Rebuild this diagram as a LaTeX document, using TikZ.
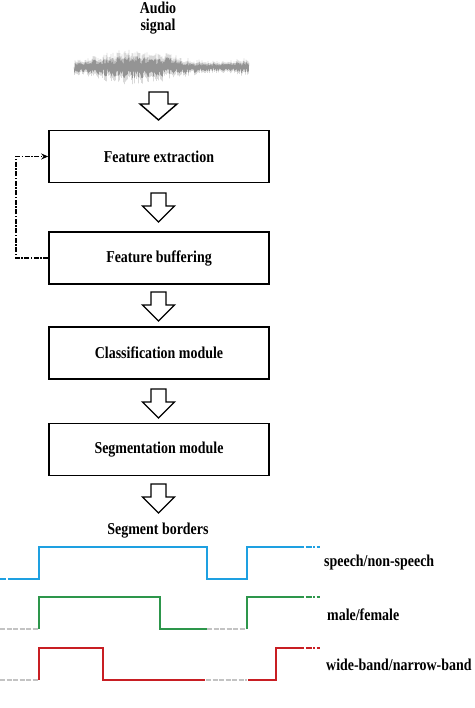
\documentclass[tikz,border=0pt]{standalone}
\usepackage{fontspec}
\setmainfont[FakeStretch=0.84]{Liberation Serif}
\usetikzlibrary{arrows.meta}
\definecolor{cblue}{RGB}{30,160,225}
\definecolor{cgreen}{RGB}{45,150,75}
\definecolor{cred}{RGB}{200,30,35}
\definecolor{cgray}{RGB}{195,195,195}
\tikzset{
  box/.style={draw=black, line width=1.6pt, minimum width=220pt, minimum height=52pt, inner sep=0pt, font=\fontsize{16.6}{17.5}\selectfont\bfseries},
  lbl/.style={inner sep=0pt, font=\fontsize{16.6}{17.5}\selectfont\bfseries},
  bigarrow/.pic={\draw[line width=1.4pt, fill=white, line join=miter] (-9.5,0) -- (9.5,0) -- (9.5,12) -- (18.5,12) -- (0,28) -- (-18.5,12) -- (-9.5,12) -- cycle;},
  smallarrow/.pic={\draw[line width=1.4pt, fill=white, line join=miter] (-7.5,0) -- (7.5,0) -- (7.5,13) -- (16,13) -- (0,29) -- (-16,13) -- (-7.5,13) -- cycle;},
  sig/.style={line width=1.8pt},
  gap/.style={cgray, line width=1.4pt, dash pattern=on 5pt off 1.5pt},
  tail/.style={line width=1.6pt, dash pattern=on 2pt off 1.5pt on 6pt off 1.5pt on 2pt off 1.5pt on 6pt off 1pt},
  feedback/.style={line width=1.1pt, dash pattern=on 5pt off 1.5pt on 1.5pt off 1.5pt},
  wave/.style={black!42, line width=0.3pt}
}
\begin{document}
\begin{tikzpicture}[x=1pt, y=-1pt]
\useasboundingbox (0,0) rectangle (474,708);
% audio label and waveform
\node[lbl, align=center] (audio) at (158,18) {Audio\\signal};
\pgfmathsetseed{11}
\draw[wave] (74,67) \foreach \i [evaluate=\i as \x using 74+\i*0.5] in {1,...,350} {
  -- (\x, {67 + (2*mod(\i,2)-1)*(0.45+0.55*rnd)*(5 + 13*exp(-((\x-135)/50)^2) + 4*exp(-((\x-245)/15)^2))}) };
% block arrows
\pic at (158.5,92) {bigarrow};
\pic at (158.5,193) {smallarrow};
\pic at (158.5,292) {smallarrow};
\pic at (158.5,389) {smallarrow};
\pic at (158.5,484) {smallarrow};
% boxes
\node[box] (fe) at (159,156.5) {Feature extraction};
\node[box] (fb) at (159,258) {Feature buffering};
\node[box] (cm) at (159,353) {Classification module};
\node[box] (sm) at (159,449.5) {Segmentation module};
% feedback loop
\coordinate (lb) at (16,258);
\draw[feedback, -{Stealth[length=7pt,width=6pt]}] (fb.west) -- (lb) |- (fe.west);
% segment borders
\node[lbl] (sb) at (158,531) {Segment borders};
% speech / non-speech
\draw[cblue, line width=1.4pt, dash pattern=on 6pt off 1.5pt] (0,579) -- (13,579);
\draw[cblue, sig] (13,579) -- (39,579) -- (39,547) -- (207,547) -- (207,579) -- (247,579) -- (247,547) -- (302,547);
\draw[cblue, tail] (302,547) -- (320,547);
\node[lbl, anchor=west] (l1) at (324,563) {speech/non-speech};
% male / female
\draw[gap] (0,629) -- (38,629);
\draw[cgreen, sig] (39,629) -- (39,597) -- (160,597) -- (160,629) -- (207,629);
\draw[gap] (207,629) -- (246,629);
\draw[cgreen, sig] (247,629) -- (247,597) -- (302,597);
\draw[cgreen, tail] (302,597) -- (320,597);
\node[lbl, anchor=west] (l2) at (327,615) {male/female};
% wide-band / narrow-band
\draw[gap] (0,680) -- (38,680);
\draw[cred, sig] (39,680) -- (39,648) -- (103,648) -- (103,680) -- (205,680);
\draw[gap] (206,680) -- (247,680);
\draw[cred, sig] (248,680) -- (276,680) -- (276,648) -- (302,648);
\draw[cred, tail] (302,648) -- (320,648);
\node[lbl, anchor=west] (l3) at (326,665) {wide-band/narrow-band};
\end{tikzpicture}
\end{document}
